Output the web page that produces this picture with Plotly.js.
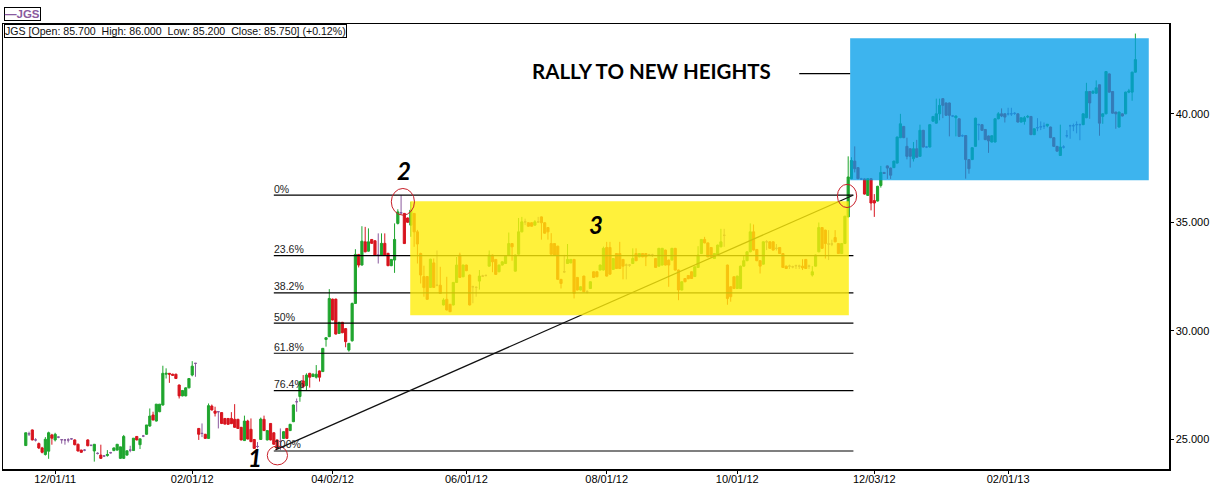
<!DOCTYPE html>
<html><head><meta charset="utf-8">
<script src="https://cdn.plot.ly/plotly-3.0.1.min.js"></script>
<style>html,body{margin:0;padding:0;background:#fff}#c{width:1213px;height:486px}</style>
</head><body><div id="c"></div>
<script>
const opens=[
24.71,25.25,25.43,24.97,24.80,24.60,24.30,24.45,25.20,24.97,
25.10,24.98,24.97,24.97,25.02,24.97,24.77,24.50,24.50,24.97,
24.72,24.46,24.35,24.27,24.23,24.25,24.38,24.48,24.50,24.12,
24.12,24.27,24.50,24.48,25.13,24.75,25.15,25.23,25.61,26.12,
25.84,26.27,26.58,28.00,28.04,28.00,28.00,27.50,27.00,27.00,
27.37,27.96,28.50,25.50,25.27,25.23,25.04,26.53,26.30,26.27,
26.23,25.96,25.96,25.96,25.92,25.92,25.55,24.94,25.84,25.46,
24.99,24.67,24.99,25.92,24.97,25.73,25.30,24.97,24.90,25.04,
25.50,25.40,25.81,26.73,26.97,27.69,27.47,28.04,27.89,27.86,
28.15,28.12,29.60,29.73,31.46,31.46,29.88,30.39,30.10,29.11,
29.54,31.26,33.52,33.03,34.10,33.67,34.21,34.15,33.49,33.49,
34.03,33.57,33.00,33.26,34.95,35.44,35.41,35.20,34.87,35.41,
34.56,33.56,32.50,32.50,32.00,33.13,32.10,32.10,31.19,31.45,
31.22,31.19,32.23,33.49,32.49,33.03,32.57,32.03,32.00,32.29,
32.52,32.55,32.98,33.49,33.29,32.72,33.03,33.10,33.49,34.02,
32.75,33.53,34.56,35.02,34.98,34.98,34.87,35.02,35.25,34.98,
34.76,34.02,34.02,33.90,32.37,32.72,33.10,33.13,
33.29,32.46,31.88,32.52,31.80,31.95,32.72,32.72,32.80,32.80,
33.84,33.84,32.83,33.56,33.56,33.29,33.03,33.03,33.10,33.56,
33.41,33.56,33.56,33.50,33.49,33.33,32.98,33.03,33.72,33.26,
33.26,33.80,32.80,31.88,32.41,32.55,32.72,32.50,32.92,33.56,
34.21,34.05,33.84,33.33,33.49,33.87,34.40,33.03,32.03,32.49,
31.95,31.95,32.98,33.23,33.64,34.56,33.75,33.23,33.07,34.10,
34.10,34.10,33.80,33.84,33.56,32.98,32.98,32.95,33.00,32.98,
32.98,33.29,32.98,32.57,32.98,33.64,34.76,34.64,34.00,34.00,
34.30,34.02,33.56,34.02,35.25,
37.01,37.82,37.52,37.00,37.00,36.24,37.01,36.00,35.98,36.70,
37.30,37.60,37.50,37.52,37.73,38.90,39.42,38.50,38.39,37.93,
38.39,38.04,39.24,38.47,38.47,39.66,39.57,40.00,40.70,40.50,
40.50,39.90,39.82,39.77,38.99,39.00,37.89,37.89,38.50,39.50,
39.50,39.28,38.98,38.70,38.70,39.77,40.00,40.00,40.00,40.00,
40.02,40.00,39.62,39.65,39.85,39.88,39.04,39.36,39.40,39.43,
39.45,39.39,38.90,38.50,38.08,38.47,38.99,39.45,39.45,39.50,
39.50,39.50,39.82,41.03,40.95,40.95,41.34,39.88,40.00,41.84,
41.03,40.08,39.39,40.00,40.00,41.00,41.00,41.92];
const highs=[
25.30,25.35,25.45,25.05,24.85,24.65,25.10,25.35,25.25,25.30,
25.12,25.00,25.00,25.05,25.05,25.00,24.80,24.52,24.55,25.00,
24.75,24.77,24.40,24.75,24.27,24.50,24.42,24.62,24.77,24.65,
25.20,24.47,24.70,25.05,25.15,25.02,25.20,25.66,26.42,26.27,
26.62,26.62,28.39,28.27,28.05,28.02,28.02,27.52,27.27,27.39,
27.80,28.60,28.50,25.52,25.73,25.25,26.65,26.60,26.50,26.30,
26.25,25.98,25.98,26.25,26.62,25.94,25.57,26.09,25.90,25.96,
25.01,24.87,26.00,26.09,25.42,25.75,25.32,24.99,25.50,25.37,
25.52,25.71,26.60,26.88,27.66,27.96,28.04,28.06,28.04,28.42,
28.17,29.21,29.70,31.92,31.48,31.48,30.41,30.41,30.12,29.44,
31.30,33.76,33.54,34.82,34.79,34.72,34.23,34.17,34.49,34.49,
34.49,33.59,33.31,34.95,35.60,36.25,35.43,35.22,35.94,35.43,
34.65,33.60,33.00,32.52,33.32,33.33,33.70,32.95,31.50,32.49,
31.24,32.25,33.40,33.60,33.05,33.05,32.59,32.08,32.05,32.80,
32.58,32.60,33.70,33.51,33.31,33.05,33.20,33.46,34.53,34.04,
33.51,35.20,35.25,35.17,35.00,35.00,35.10,35.25,35.27,35.00,
34.78,34.50,34.04,33.92,32.39,33.50,34.00,33.31,
33.31,32.48,32.05,32.54,31.88,32.28,32.74,32.74,33.05,33.88,
34.10,34.10,33.35,33.58,34.10,33.31,33.10,33.08,33.80,33.80,
33.58,33.58,33.58,33.55,33.55,33.35,33.82,33.82,33.74,33.28,
33.82,33.82,32.82,32.28,32.43,32.57,32.74,32.97,33.90,34.23,
34.33,34.07,33.86,33.58,33.97,34.70,34.70,33.05,32.05,32.51,
32.54,33.00,33.48,33.66,34.95,34.90,33.77,33.25,34.12,34.18,
34.12,34.12,34.00,33.86,33.58,33.00,33.05,33.00,33.05,33.05,
33.30,33.31,33.05,32.98,33.51,34.99,34.78,34.66,34.64,34.20,
34.64,34.04,34.04,35.30,38.04,
38.00,38.50,37.54,37.05,37.02,37.03,37.03,36.30,36.68,37.60,
37.32,37.62,37.52,37.84,38.95,40.00,39.44,38.90,38.41,38.70,
38.80,39.50,39.26,38.52,39.52,39.90,40.70,40.70,40.72,40.52,
40.52,39.95,39.92,39.79,39.05,39.02,37.91,38.46,39.82,39.55,
39.52,39.30,39.00,39.01,39.79,40.08,40.25,40.02,40.28,40.28,
40.08,40.02,39.82,39.90,39.95,39.90,39.33,39.80,39.65,39.60,
39.52,39.41,38.92,38.52,39.50,38.55,39.25,39.50,39.55,39.65,
39.55,40.02,41.43,41.05,41.10,41.54,41.36,40.02,41.97,41.86,
41.05,40.10,40.10,40.02,41.02,41.15,41.94,43.70];
const lows=[
24.70,25.15,24.95,24.90,24.55,24.35,24.25,24.10,24.75,24.90,
25.05,24.80,24.75,24.85,24.98,24.72,24.44,24.38,24.45,24.68,
24.68,23.97,24.30,24.10,24.18,24.20,24.34,24.45,24.48,24.10,
24.10,24.25,24.40,24.46,24.95,24.55,25.10,25.20,25.58,25.87,
25.82,26.25,26.55,27.80,27.60,27.93,27.78,26.88,26.98,26.98,
27.35,27.90,27.88,24.97,25.10,25.02,25.02,26.33,26.05,25.50,
25.70,25.68,25.67,25.70,25.53,25.48,24.95,24.92,24.99,24.87,
24.56,24.58,24.97,25.38,24.95,24.95,24.75,24.56,24.50,25.02,
25.02,25.38,25.79,26.27,26.73,27.35,27.23,27.38,27.87,27.80,
27.66,28.10,29.27,29.71,30.48,29.83,29.86,29.89,29.24,29.04,
29.50,31.24,32.92,33.01,33.62,33.65,34.01,33.47,33.10,33.47,
33.47,32.98,32.98,32.67,34.90,35.36,34.00,34.98,34.33,33.87,
33.10,32.18,31.57,31.43,31.98,31.98,32.05,31.70,31.17,30.94,
30.86,31.17,32.21,32.44,32.47,32.75,31.17,31.27,31.57,31.90,
32.48,32.50,32.96,32.70,32.58,32.70,33.01,33.08,33.47,33.23,
32.73,33.51,34.54,34.87,34.80,34.80,34.85,34.97,34.20,34.48,
34.20,33.51,33.47,32.35,31.95,32.66,33.08,33.11,
31.49,31.86,31.86,31.78,31.72,31.93,32.44,32.47,32.78,32.78,
32.50,32.59,32.81,32.85,32.85,32.37,32.37,32.95,33.08,33.21,
33.39,33.39,32.98,33.45,33.40,32.90,32.96,33.01,33.01,32.03,
33.24,32.78,31.41,31.86,32.24,32.38,32.39,32.48,32.90,33.54,
34.03,33.39,33.39,33.31,33.47,33.85,33.87,31.20,31.34,31.93,
31.93,31.93,32.96,33.21,33.62,33.70,33.21,32.64,33.05,33.72,
33.78,33.70,33.70,33.54,32.90,32.85,32.85,32.88,32.85,32.85,
32.80,32.85,32.85,32.50,32.96,33.62,33.78,33.33,33.26,33.90,
34.08,33.54,33.54,34.00,35.23,
36.99,37.30,36.99,36.95,36.28,36.22,35.55,35.25,35.96,36.60,
37.23,37.00,37.00,37.50,37.71,38.88,38.88,37.90,37.52,37.80,
37.98,38.02,38.45,38.42,38.45,39.64,39.55,39.70,39.80,39.91,
38.96,39.85,38.96,38.94,38.93,37.01,37.24,37.87,38.48,38.78,
39.22,38.79,38.20,38.68,38.68,39.75,39.85,39.60,39.92,39.90,
39.95,39.60,39.60,39.50,39.80,39.02,39.02,39.20,39.25,39.30,
39.38,38.88,38.48,38.26,38.06,38.40,38.90,38.85,39.20,39.10,
38.78,39.48,39.80,39.77,40.93,40.93,38.99,39.54,39.98,40.98,
40.01,39.31,39.37,39.88,39.98,40.95,40.60,41.90];
const closes=[
25.30,25.25,24.97,24.97,24.60,24.40,25.00,25.30,25.05,25.23,
25.10,24.98,24.97,24.97,25.02,24.75,24.46,24.40,24.50,24.70,
24.72,24.77,24.35,24.12,24.23,24.30,24.38,24.60,24.77,24.65,
25.13,24.47,24.50,25.05,24.97,25.02,25.15,25.66,26.07,25.89,
26.62,26.62,28.04,28.04,28.00,27.95,27.80,27.00,27.25,27.37,
27.80,28.37,28.50,25.23,25.27,25.04,26.55,26.35,26.20,26.27,
25.73,25.70,25.69,25.72,25.55,25.50,24.97,25.84,25.01,24.89,
24.58,24.67,25.93,25.40,25.40,24.97,24.77,24.58,24.90,25.35,
25.04,25.69,26.58,26.73,27.66,27.43,27.96,27.86,28.00,28.00,
27.86,29.19,29.68,31.49,30.50,29.85,30.39,29.91,29.50,29.42,
31.26,33.52,33.03,34.13,33.64,34.10,34.03,33.49,33.49,34.03,
33.49,33.00,33.29,34.21,35.48,35.44,34.02,35.00,35.56,34.56,
34.00,32.57,31.99,31.45,33.30,32.00,32.10,31.72,31.42,30.96,
30.88,32.23,33.03,32.46,33.03,32.77,31.19,32.03,32.00,32.52,
32.52,32.55,33.49,33.18,32.60,33.03,33.18,33.44,34.02,33.87,
33.49,34.56,35.02,35.02,34.82,34.82,35.02,35.02,34.98,34.50,
34.56,33.53,33.49,32.37,32.18,32.72,33.29,33.29,
31.72,31.88,32.03,31.80,31.80,32.26,32.46,32.49,33.03,33.80,
32.52,32.61,33.33,32.87,32.87,32.98,33.03,33.03,33.33,33.23,
33.56,33.41,33.41,33.50,33.49,32.92,33.80,33.80,33.03,33.03,
33.80,32.80,31.88,32.26,32.26,32.40,32.41,32.95,33.49,34.21,
34.05,33.41,33.41,33.56,33.95,34.10,34.40,31.49,31.57,31.95,
32.52,32.98,33.23,33.64,34.56,33.72,33.23,32.98,34.10,34.10,
33.80,33.72,33.80,33.56,32.92,32.87,32.98,32.95,33.00,32.98,
32.90,32.87,32.98,32.72,33.49,34.76,33.80,34.02,34.00,34.00,
34.10,33.56,34.02,35.28,37.09,
37.85,37.47,37.01,37.00,36.30,37.01,35.89,35.89,36.66,37.30,
37.25,37.50,37.17,37.82,38.93,39.54,38.90,38.04,38.04,38.39,
38.00,39.24,38.47,38.47,39.50,39.88,40.00,40.39,40.39,39.93,
39.93,39.90,39.90,38.96,38.99,37.89,37.47,38.44,39.80,39.50,
39.24,38.81,38.75,38.99,39.77,40.00,39.90,39.85,40.00,40.00,
40.02,39.62,39.82,39.82,39.88,39.04,39.31,39.36,39.40,39.43,
39.52,38.90,38.50,38.28,38.47,38.47,38.99,39.45,39.45,39.50,
39.50,40.00,41.03,40.50,41.03,41.20,39.57,40.00,41.95,41.00,
40.03,40.00,40.08,39.90,41.00,41.05,41.92,42.50];

const tickBars=[9,51,94,135,178,218,260,301];
const tickDates=["12/01/11","02/01/12","04/02/12","06/01/12","08/01/12","10/01/12","12/03/12","02/01/13"];
const priceTicks=[25,30,35,40];
const fibRatios=[0,0.236,0.382,0.5,0.618,0.764,1];
const fibLabels=["0%","23.6%","38.2%","50%","61.8%","76.4%","100%"];
const fibTop=36.25, fibBottom=24.46;

const GREEN="#1fa52e", RED="#d8141e", PURPLE="#8a5a9e";
function pick(test){
  const idx=opens.map((_,i)=>i).filter(test);
  return {x:idx,open:idx.map(i=>opens[i]),high:idx.map(i=>highs[i]),low:idx.map(i=>lows[i]),close:idx.map(i=>closes[i])};
}
function candle(sel,color){
  const side={line:{color:color,width:1},fillcolor:color};
  return Object.assign({type:"candlestick",whiskerwidth:0,showlegend:false,hoverinfo:"skip",increasing:side,decreasing:side},sel);
}
const traces=[
  candle(pick(i=>closes[i]>opens[i]),GREEN),
  candle(pick(i=>closes[i]<opens[i]),RED),
  candle(pick(i=>closes[i]===opens[i]),PURPLE)
];
const fibPrices=fibRatios.map(r=>fibTop-(fibTop-fibBottom)*r);
const FIBX0=76, FIBX1=253.6;
const shapes=[];
fibPrices.forEach(p=>shapes.push({type:"line",xref:"x",yref:"y",x0:FIBX0,x1:FIBX1,y0:p,y1:p,line:{color:"#000",width:1.2}}));
shapes.push({type:"line",xref:"x",yref:"y",x0:76.5,x1:253.5,y0:fibBottom+0.05,y1:fibTop,line:{color:"#111",width:1.2}});
shapes.push({type:"rect",xref:"x",yref:"y",x0:117.8,x1:252.2,y0:30.72,y1:35.97,fillcolor:"rgb(255,238,10)",opacity:0.8,line:{width:0}});
shapes.push({type:"rect",xref:"x",yref:"y",x0:252.6,x1:344.1,y0:36.94,y1:43.48,fillcolor:"rgb(0,156,232)",opacity:0.76,line:{width:0}});
shapes.push({type:"line",xref:"x",yref:"y",x0:237,x1:252.6,y0:41.85,y1:41.85,line:{color:"#000",width:1.2}});
[[74.0,80.2,23.82,24.69],[112.0,119.1,35.33,36.56],[248.7,254.6,35.68,36.75]].forEach(c=>
  shapes.push({type:"circle",xref:"x",yref:"y",x0:c[0],x1:c[1],y0:c[2],y1:c[3],line:{color:"#c8202a",width:1}}));

const SANS="'Liberation Sans',Arial,sans-serif";
const annos=fibLabels.map((t,i)=>({xref:"x",yref:"y",x:FIBX0-0.4,y:fibPrices[i]-0.02,text:t,showarrow:false,xanchor:"left",yanchor:"bottom",borderpad:0,font:{family:SANS,size:10.5,color:"#222"}}));
annos.push({xref:"x",yref:"y",x:191.6,y:41.96,text:"<b>RALLY TO NEW HEIGHTS</b>",showarrow:false,font:{family:"Lato,sans-serif",size:20.5,color:"#000"}});
[["1",70.3,24.14],["2",116,37.4],["3",174.8,34.91]].forEach(a=>
  annos.push({xref:"x",yref:"y",x:a[1],y:a[2],text:"<b><i>"+a[0]+"</i></b>",showarrow:false,font:{family:"Lato,sans-serif",size:24,color:"#000"}}));
annos.push({xref:"paper",yref:"paper",x:0.0005,y:1.0,xanchor:"left",yanchor:"bottom",yshift:3,text:"<b>—JGS</b>",showarrow:false,bordercolor:"#000",borderwidth:1,borderpad:0,bgcolor:"#fff",font:{family:SANS,size:11.5,color:"#8a5a9e"}});
annos.push({xref:"paper",yref:"paper",x:0.0005,y:1.0,xanchor:"left",yanchor:"top",text:"JGS [Open: 85.700&nbsp;&nbsp;High: 86.000&nbsp;&nbsp;Low: 85.200&nbsp;&nbsp;Close: 85.750] (+0.12%)",showarrow:false,bordercolor:"#000",borderwidth:1,borderpad:0,bgcolor:"#fff",font:{family:SANS,size:10.6,color:"#111"}});

const axisFont={family:SANS,size:11,color:"#000"};
Plotly.newPlot("c",traces,{
  width:1213,height:486,autosize:false,showlegend:false,
  margin:{l:2.5,r:44,t:23.5,b:17,pad:0},
  paper_bgcolor:"#fff",plot_bgcolor:"#fff",boxgap:0.05,
  xaxis:{range:[-6.98,350.3],tickmode:"array",tickvals:tickBars,ticktext:tickDates,ticks:"outside",ticklen:3,tickcolor:"#000",tickfont:axisFont,ticklabelstandoff:-4,showgrid:false,zeroline:false,showline:true,mirror:true,linecolor:"#000",linewidth:1.5,rangeslider:{visible:false}},
  yaxis:{side:"right",range:[23.63,44.14],tickmode:"array",tickvals:priceTicks,ticktext:priceTicks.map(v=>v.toFixed(3)),ticks:"outside",ticklen:3,tickcolor:"#000",tickfont:axisFont,showgrid:false,zeroline:false,showline:true,mirror:true,linecolor:"#000",linewidth:1.5},
  shapes:shapes,annotations:annos
},{displayModeBar:false,staticPlot:true});
</script></body></html>
